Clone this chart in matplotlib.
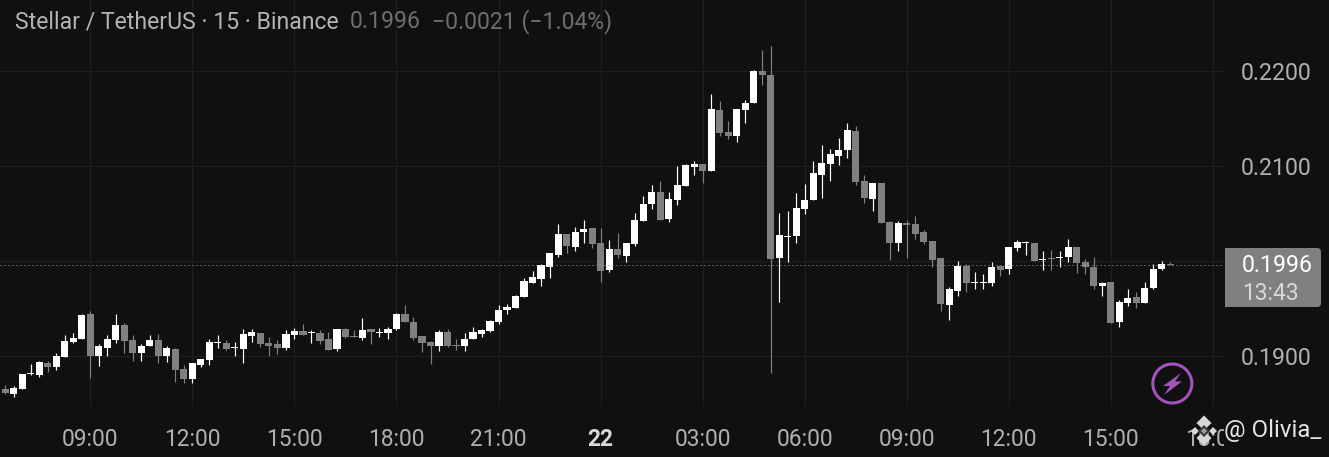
# XLM/USDT 15 min candles, dark theme
import matplotlib
matplotlib.use('Agg')
import matplotlib.pyplot as plt
import numpy as np
from matplotlib.patches import Circle, PathPatch, Polygon
from matplotlib.path import Path
from matplotlib.transforms import Bbox

plt.rcParams['font.family'] = ['Roboto', 'DejaVu Sans']

# Values
opens = [0.1865, 0.1860, 0.1865, 0.1881, 0.1880, 0.1893, 0.1888, 0.1899, 0.1915, 0.1918,
         0.1944, 0.1900, 0.1908, 0.1917, 0.1933, 0.1917, 0.1903, 0.1910, 0.1917, 0.1900,
         0.1907, 0.1886, 0.1876, 0.1890, 0.1896, 0.1914, 0.1914, 0.1908, 0.1907, 0.1921,
         0.1924, 0.1914, 0.1913, 0.1908, 0.1922, 0.1926, 0.1924, 0.1924, 0.1918, 0.1907,
         0.1928, 0.1921, 0.1919, 0.1928, 0.1924, 0.1924, 0.1928, 0.1944, 0.1936, 0.1921,
         0.1915, 0.1910, 0.1925, 0.1912, 0.1910, 0.1918, 0.1923, 0.1926, 0.1936, 0.1948,
         0.1950, 0.1962, 0.1977, 0.1981, 0.1994, 0.2006, 0.2028, 0.2015, 0.2030, 0.2035,
         0.2019, 0.1990, 0.2013, 0.2005, 0.2018, 0.2042, 0.2060, 0.2073, 0.2044, 0.2064,
         0.2079, 0.2099, 0.2102, 0.2095, 0.2159, 0.2136, 0.2132, 0.2159, 0.2166, 0.2200,
         0.2196, 0.2003, 0.2025, 0.2026, 0.2055, 0.2064, 0.2091, 0.2102, 0.2111, 0.2117,
         0.2137, 0.2084, 0.2065, 0.2082, 0.2041, 0.2019, 0.2040, 0.2039, 0.2031, 0.2021,
         0.2003, 0.1954, 0.1968, 0.1995, 0.1977, 0.1977, 0.1977, 0.1995, 0.1992, 0.2014,
         0.2019, 0.2019, 0.2001, 0.2003, 0.2003, 0.2004, 0.2015, 0.1999, 0.1994, 0.1974,
         0.1978, 0.1936, 0.1956, 0.1962, 0.1956, 0.1972, 0.1992, 0.1997]
highs = [0.1869, 0.1868, 0.1881, 0.1892, 0.1895, 0.1895, 0.1903, 0.1922, 0.1924, 0.1944,
         0.1947, 0.1913, 0.1922, 0.1944, 0.1935, 0.1922, 0.1913, 0.1922, 0.1923, 0.1910,
         0.1908, 0.1890, 0.1893, 0.1897, 0.1918, 0.1922, 0.1917, 0.1915, 0.1928, 0.1928,
         0.1924, 0.1920, 0.1917, 0.1927, 0.1929, 0.1934, 0.1927, 0.1927, 0.1925, 0.1928,
         0.1929, 0.1927, 0.1940, 0.1928, 0.1929, 0.1931, 0.1945, 0.1954, 0.1941, 0.1921,
         0.1916, 0.1927, 0.1928, 0.1918, 0.1924, 0.1931, 0.1928, 0.1938, 0.1954, 0.1955,
         0.1964, 0.1982, 0.1989, 0.1997, 0.2008, 0.2039, 0.2028, 0.2036, 0.2043, 0.2035,
         0.2035, 0.2022, 0.2029, 0.2019, 0.2051, 0.2068, 0.2080, 0.2084, 0.2073, 0.2100,
         0.2102, 0.2105, 0.2102, 0.2176, 0.2168, 0.2147, 0.2160, 0.2169, 0.2201, 0.2222,
         0.2226, 0.2050, 0.2053, 0.2072, 0.2081, 0.2105, 0.2122, 0.2118, 0.2129, 0.2145,
         0.2142, 0.2091, 0.2082, 0.2082, 0.2042, 0.2042, 0.2043, 0.2047, 0.2033, 0.2021,
         0.2003, 0.1973, 0.2000, 0.1997, 0.1988, 0.1986, 0.1999, 0.1995, 0.2015, 0.2022,
         0.2021, 0.2019, 0.2011, 0.2012, 0.2010, 0.2023, 0.2015, 0.2002, 0.2004, 0.1978,
         0.1978, 0.1959, 0.1970, 0.1967, 0.1978, 0.1997, 0.2000, 0.1999]
lows = [0.1860, 0.1857, 0.1865, 0.1880, 0.1878, 0.1883, 0.1885, 0.1899, 0.1914, 0.1918,
        0.1877, 0.1889, 0.1900, 0.1914, 0.1903, 0.1895, 0.1895, 0.1910, 0.1893, 0.1894,
        0.1873, 0.1872, 0.1872, 0.1888, 0.1890, 0.1908, 0.1906, 0.1900, 0.1893, 0.1915,
        0.1909, 0.1900, 0.1902, 0.1906, 0.1918, 0.1922, 0.1914, 0.1913, 0.1906, 0.1905,
        0.1919, 0.1920, 0.1917, 0.1913, 0.1920, 0.1918, 0.1927, 0.1936, 0.1917, 0.1904,
        0.1892, 0.1905, 0.1909, 0.1906, 0.1905, 0.1918, 0.1920, 0.1925, 0.1934, 0.1944,
        0.1950, 0.1962, 0.1977, 0.1974, 0.1982, 0.2004, 0.2008, 0.2010, 0.2019, 0.2014,
        0.1978, 0.1988, 0.2003, 0.1999, 0.2016, 0.2042, 0.2055, 0.2043, 0.2041, 0.2059,
        0.2079, 0.2091, 0.2082, 0.2095, 0.2132, 0.2128, 0.2125, 0.2145, 0.2166, 0.2185,
        0.1882, 0.1957, 0.1999, 0.2019, 0.2049, 0.2064, 0.2066, 0.2084, 0.2101, 0.2108,
        0.2080, 0.2061, 0.2053, 0.2040, 0.2001, 0.2011, 0.2003, 0.2023, 0.2018, 0.1994,
        0.1947, 0.1938, 0.1963, 0.1967, 0.1971, 0.1970, 0.1974, 0.1984, 0.1986, 0.2011,
        0.2006, 0.2000, 0.1991, 0.1991, 0.1994, 0.1999, 0.1987, 0.1986, 0.1970, 0.1963,
        0.1935, 0.1930, 0.1953, 0.1950, 0.1956, 0.1970, 0.1990, 0.1996]
closes = [0.1861, 0.1866, 0.1881, 0.1882, 0.1894, 0.1888, 0.1900, 0.1916, 0.1919, 0.1943,
          0.1900, 0.1910, 0.1918, 0.1933, 0.1916, 0.1903, 0.1910, 0.1917, 0.1900, 0.1908,
          0.1885, 0.1876, 0.1893, 0.1897, 0.1915, 0.1915, 0.1907, 0.1909, 0.1923, 0.1925,
          0.1913, 0.1910, 0.1908, 0.1923, 0.1926, 0.1922, 0.1925, 0.1916, 0.1906, 0.1928,
          0.1920, 0.1920, 0.1927, 0.1925, 0.1925, 0.1928, 0.1944, 0.1936, 0.1919, 0.1914,
          0.1911, 0.1925, 0.1911, 0.1911, 0.1918, 0.1925, 0.1927, 0.1937, 0.1948, 0.1952,
          0.1963, 0.1979, 0.1983, 0.1996, 0.2008, 0.2028, 0.2016, 0.2031, 0.2034, 0.2018,
          0.1989, 0.2013, 0.2006, 0.2019, 0.2043, 0.2060, 0.2073, 0.2043, 0.2065, 0.2080,
          0.2101, 0.2102, 0.2095, 0.2160, 0.2135, 0.2132, 0.2160, 0.2166, 0.2200, 0.2196,
          0.2002, 0.2027, 0.2026, 0.2056, 0.2064, 0.2093, 0.2103, 0.2113, 0.2117, 0.2138,
          0.2083, 0.2066, 0.2082, 0.2040, 0.2019, 0.2040, 0.2038, 0.2028, 0.2020, 0.2001,
          0.1955, 0.1970, 0.1995, 0.1977, 0.1978, 0.1978, 0.1994, 0.1991, 0.2015, 0.2020,
          0.2020, 0.2000, 0.2002, 0.2002, 0.2004, 0.2015, 0.1998, 0.1994, 0.1974, 0.1977,
          0.1935, 0.1957, 0.1961, 0.1956, 0.1972, 0.1992, 0.1997, 0.1996]

price_ticks = [0.19, 0.20, 0.21, 0.22]
time_ticks = [10, 22, 34, 46, 58, 70, 82, 94, 106, 118, 130, 142]
time_labels = ['09:00', '12:00', '15:00', '18:00', '21:00', '22',
               '03:00', '06:00', '09:00', '12:00', '15:00', '18:00']

BG = '#101010'
UP = '#ffffff'
DOWN = '#808080'
GRID = '#1e1e1e'
W, H = 1329, 457

fig = plt.figure(figsize=(W / 100, H / 100), dpi=100, facecolor=BG)
ax = fig.add_axes([0, 50 / H, 1224 / W, 407 / H], facecolor=BG)

o = np.array(opens)
c = np.array(closes)
x = np.arange(len(o))
colors = [UP if b > a else DOWN for a, b in zip(o, c)]

ax.vlines(x, lows, highs, colors=colors, linewidth=0.85, zorder=3)
ax.bar(x, np.maximum(np.abs(c - o), 0.0001), bottom=np.minimum(o, c), width=0.84,
       color=colors, linewidth=0, zorder=4)

# last price line
ax.axhline(closes[-1], color='#a0a0a0', linewidth=0.72, linestyle=(0, (1, 3)), zorder=5)

ax.set_xlim(-0.62, 143.3)
ax.set_ylim(0.18463, 0.22747)
ax.set_xticks(time_ticks, time_labels)
ax.set_yticks(price_ticks, [f'{p:.4f}' for p in price_ticks])
ax.yaxis.tick_right()
ax.grid(True, color=GRID, linewidth=0.9, zorder=0)
ax.set_axisbelow(True)
ax.tick_params(axis='x', length=0, pad=14.8, labelsize=16.4, labelcolor='#b0b0b0')
ax.tick_params(axis='y', length=0, pad=12, labelsize=16.7, labelcolor='#b0b0b0')
for s in ax.spines.values():
    s.set_visible(False)

for lab in ax.get_xticklabels():
    lab.set_clip_on(True)
    lab.set_clip_box(Bbox([[0, 0], [1224, H]]))
    if lab.get_text() == '22':
        lab.set_fontweight('bold')
        lab.set_color('#d8d8d8')

# overlay in pixel coordinates for the header, price tag and badges
top = fig.add_axes([0, 0, 1, 1], facecolor='none')
top.set_xlim(0, W)
top.set_ylim(H, 0)
top.axis('off')

top.text(15, 22, 'Stellar / TetherUS · 15 · Binance', color='#b4b4b4', fontsize=16.6,
         va='center', ha='left')
top.text(350, 22, '0.1996', color='#6e6e6e', fontsize=16.6, va='center', ha='left')
top.text(432, 22, '−0.0021 (−1.04%)', color='#6e6e6e', fontsize=16.6, va='center', ha='left')

# price tag, rounded only on the right side
tag = Path([(1225, 248), (1317, 248), (1321, 248), (1321, 252), (1321, 303), (1321, 307),
            (1317, 307), (1225, 307), (1225, 248)],
           [Path.MOVETO, Path.LINETO, Path.CURVE3, Path.CURVE3, Path.LINETO, Path.CURVE3,
            Path.CURVE3, Path.LINETO, Path.CLOSEPOLY])
top.add_patch(PathPatch(tag, facecolor='#808080', edgecolor='none', zorder=2))
top.text(1242, 266, f'{closes[-1]:.4f}', color='#ffffff', fontsize=16.7, va='center', zorder=3)
top.text(1242, 293, '13:43', color='#d8d8d8', fontsize=16.4, va='center', zorder=3)

# lightning badge
top.add_patch(Circle((1172.3, 383.5), 19.5, facecolor='none', edgecolor='#a452bd', linewidth=2.2))
top.add_patch(Polygon([(1181, 373), (1163, 386), (1170, 386), (1164, 395),
                       (1182, 381.5), (1175, 381.5)], closed=True, facecolor='#a452bd',
                      edgecolor='none'))

# watermark
for cx, cy, r in [(1204, 423, 7.5), (1204, 438, 7.5), (1195, 431, 4), (1213, 431, 4)]:
    top.add_patch(Polygon([(cx - r, cy), (cx, cy - r), (cx + r, cy), (cx, cy + r)], closed=True,
                          facecolor='#d8d8d8', edgecolor='none', zorder=4))
top.add_patch(Polygon([(1204 - 6, 431), (1204, 425), (1204 + 6, 431), (1204, 437)],
                      closed=True, facecolor='#3a3a3a', edgecolor='none', zorder=5))
top.add_patch(Polygon([(1204 - 3, 431), (1204, 428), (1204 + 3, 431), (1204, 434)],
                      closed=True, facecolor='#a0a0a0', edgecolor='none', zorder=6))
top.text(1224, 431, '@ Olivia_', color='#e4e4e4', fontsize=17.3, va='center', ha='left', zorder=4)

fig.savefig('out.png', dpi=100, facecolor=BG)
